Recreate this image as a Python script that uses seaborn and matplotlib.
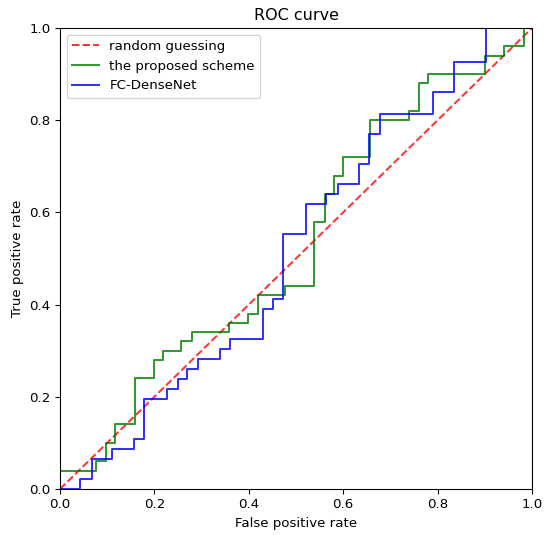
import matplotlib
matplotlib.use("Agg")
import matplotlib.pyplot as plt
import seaborn as sns

# ROC step points (steps-post): fpr where each horizontal run starts, tpr of that run
scheme_fpr = [0, 0, 0.076, 0.097, 0.116, 0.159, 0.199, 0.218, 0.257, 0.279, 0.358,
              0.399, 0.420, 0.476, 0.538, 0.561, 0.581, 0.600, 0.657, 0.740, 0.761,
              0.780, 0.900, 0.940, 0.983, 1.0]
scheme_tpr = [0, 0.04, 0.06, 0.10, 0.14, 0.24, 0.28, 0.30, 0.32, 0.34, 0.36,
              0.38, 0.42, 0.44, 0.58, 0.64, 0.68, 0.72, 0.80, 0.82, 0.88,
              0.90, 0.94, 0.96, 1.0, 1.0]

dense_fpr = [0, 0.043, 0.067, 0.111, 0.157, 0.177, 0.227, 0.250, 0.270, 0.292, 0.338,
             0.360, 0.430, 0.452, 0.473, 0.521, 0.564, 0.588, 0.634, 0.654, 0.677,
             0.791, 0.835, 0.903, 1.0]
dense_tpr = [0, 0.022, 0.065, 0.087, 0.109, 0.196, 0.217, 0.239, 0.261, 0.283, 0.304,
             0.326, 0.391, 0.413, 0.553, 0.618, 0.640, 0.662, 0.705, 0.770, 0.813,
             0.862, 0.927, 1.0, 1.0]

diag = [0, 1]

dpi = 96
fig = plt.figure(figsize=(550 / dpi, 535 / dpi), dpi=dpi)
ax = fig.add_axes([60 / 550, 46 / 535, 472 / 550, 461 / 535])

sns.lineplot(x=diag, y=diag, ax=ax, color="red", linestyle="--", alpha=0.8,
             label="random guessing")
sns.lineplot(x=scheme_fpr, y=scheme_tpr, ax=ax, color="green", estimator=None,
             sort=False, drawstyle="steps-post", alpha=0.8, label="the proposed scheme")
sns.lineplot(x=dense_fpr, y=dense_tpr, ax=ax, color="blue", estimator=None,
             sort=False, drawstyle="steps-post", alpha=0.8, label="FC-DenseNet")

ax.set_xlim(0, 1)
ax.set_ylim(0, 1)
ax.set_title("ROC curve")
ax.set_xlabel("False positive rate")
ax.set_ylabel("True positive rate")
ax.legend(loc="upper left")

fig.savefig("out.png", dpi=dpi)
